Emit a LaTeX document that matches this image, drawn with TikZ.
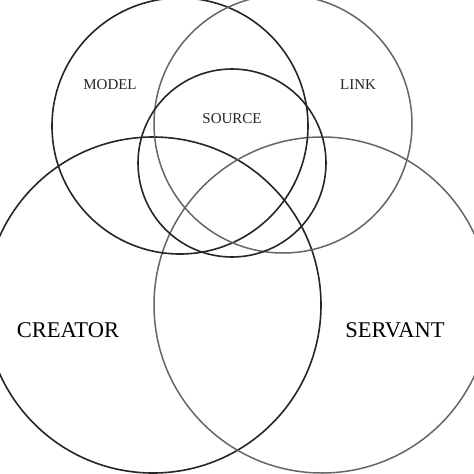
\documentclass[tikz,border=0pt]{standalone}
\usepackage{fontspec}
\setmainfont{Liberation Serif}
\begin{document}
\begin{tikzpicture}[x=1pt,y=-1pt,
  dark/.style={draw=black!85,line width=1.6pt},
  light/.style={draw=black!60,line width=1.5pt},
  small/.style={font=\fontsize{15}{18}\selectfont,text=black!85},
  big/.style={font=\fontsize{22.5}{26}\selectfont,text=black}]
\useasboundingbox (0,0) rectangle (474,474);
\clip (0,0) rectangle (474,474);
\fill[white] (0,0) rectangle (474,474);
\draw[dark] (153,305) circle[radius=168];
\draw[light] (322,305) circle[radius=168];
\draw[dark] (180,126) circle[radius=128];
\draw[light] (283,124) circle[radius=129];
\draw[dark] (232,163) circle[radius=94];
\node[small] (model) at (110,85) {MODEL};
\node[small] (link) at (358,85) {LINK};
\node[small] (source) at (232,119) {SOURCE};
\node[big] (creator) at (68,330) {CREATOR};
\node[big] (servant) at (395,330) {SERVANT};
\end{tikzpicture}
\end{document}
